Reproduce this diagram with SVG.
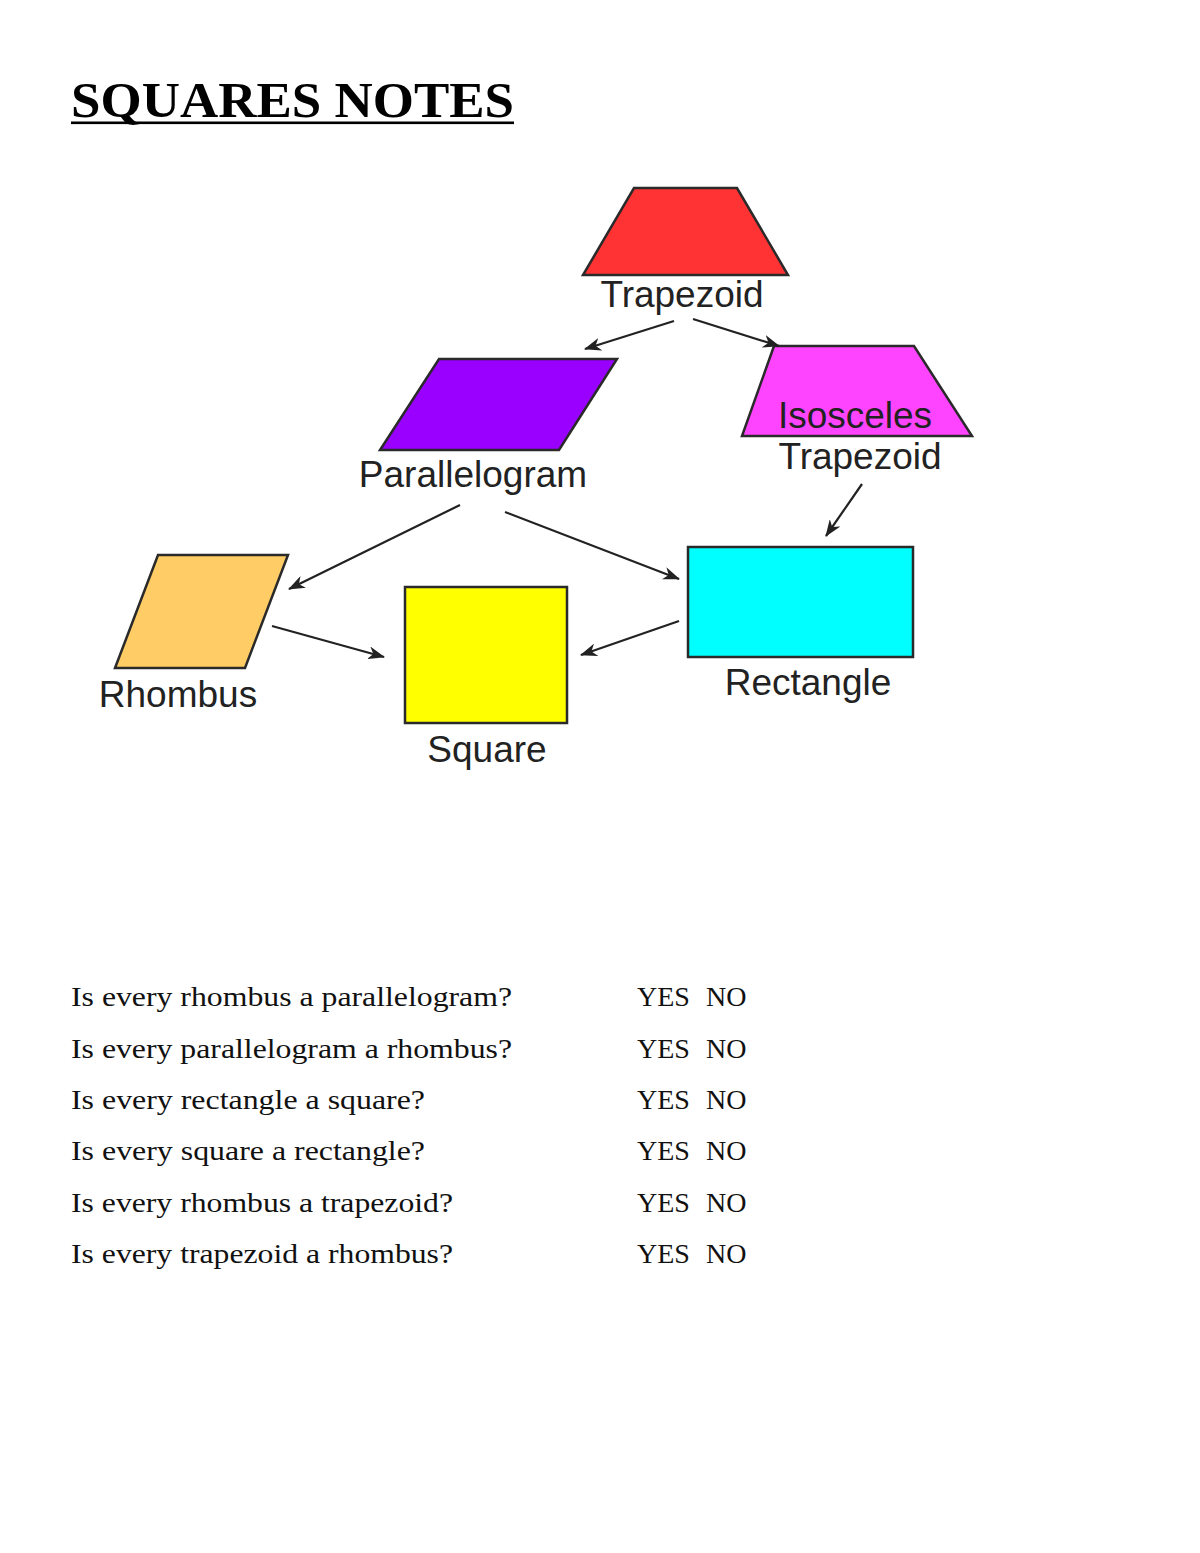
<svg xmlns="http://www.w3.org/2000/svg" width="1200" height="1553" viewBox="0 0 1200 1553">
  <style>
    .shape { stroke: #2a2a2a; stroke-width: 2.5; stroke-linejoin: miter; }
    .lbl { font-family: "Liberation Sans", Arial, sans-serif; font-size: 37px; fill: #222; }
    .conn { stroke: #222; stroke-width: 2.2; fill: none; marker-end: url(#ah); }
    .q { font-family: "Liberation Serif", "Times New Roman", serif; font-size: 28px; fill: #111; }
    .title { font-family: "Liberation Serif", "Times New Roman", serif; font-size: 51px; font-weight: bold; fill: #000; }
  </style>
  <defs>
    <marker id="ah" viewBox="0 0 17 13" refX="16" refY="6.5" markerWidth="17" markerHeight="13" markerUnits="userSpaceOnUse" orient="auto">
      <path d="M0,0 L17,6.5 L0,13 L5,6.5 z" fill="#222"/>
    </marker>
  </defs>
  <rect width="1200" height="1553" fill="#fff"/>

  <g id="title">
    <text class="title" x="71" y="117" textLength="443" lengthAdjust="spacingAndGlyphs">SQUARES NOTES</text>
    <rect x="71" y="121.5" width="443" height="2.6" fill="#000"/>
  </g>

  <g id="node-trapezoid">
    <polygon class="shape" points="634,188 737,188 788,275 583,275" fill="#ff3333"/>
    <text class="lbl" x="682" y="307" text-anchor="middle">Trapezoid</text>
  </g>

  <g id="node-parallelogram">
    <polygon class="shape" points="439,359 617,359 559,450 380,450" fill="#9900ff"/>
    <text class="lbl" x="473" y="487" text-anchor="middle">Parallelogram</text>
  </g>

  <g id="node-isosceles">
    <polygon class="shape" points="774,346 914,346 972,436 742,436" fill="#ff44ff"/>
    <text class="lbl" x="855" y="428" text-anchor="middle">Isosceles</text>
    <text class="lbl" x="860" y="469" text-anchor="middle">Trapezoid</text>
  </g>

  <g id="node-rhombus">
    <polygon class="shape" points="158,555 288,555 245,668 115,668" fill="#ffcc66"/>
    <text class="lbl" x="178" y="707" text-anchor="middle">Rhombus</text>
  </g>

  <g id="node-square">
    <rect class="shape" x="405" y="587" width="162" height="136" fill="#ffff00"/>
    <text class="lbl" x="487" y="762" text-anchor="middle">Square</text>
  </g>

  <g id="node-rectangle">
    <rect class="shape" x="688" y="547" width="225" height="110" fill="#00ffff"/>
    <text class="lbl" x="808" y="695" text-anchor="middle">Rectangle</text>
  </g>

  <g id="connectors">
    <line class="conn" x1="674" y1="321" x2="585" y2="349"/>
    <line class="conn" x1="693" y1="319" x2="779" y2="346"/>
    <line class="conn" x1="460" y1="505" x2="289" y2="589"/>
    <line class="conn" x1="505" y1="512" x2="679" y2="579"/>
    <line class="conn" x1="862" y1="484" x2="826" y2="536"/>
    <line class="conn" x1="272" y1="626" x2="384" y2="657"/>
    <line class="conn" x1="679" y1="621" x2="581" y2="655"/>
  </g>

  <g id="questions">
    <text class="q" x="71" y="1006" textLength="441" lengthAdjust="spacingAndGlyphs">Is every rhombus a parallelogram?</text>
    <text class="q" x="71" y="1058" textLength="441" lengthAdjust="spacingAndGlyphs">Is every parallelogram a rhombus?</text>
    <text class="q" x="71" y="1109" textLength="354" lengthAdjust="spacingAndGlyphs">Is every rectangle a square?</text>
    <text class="q" x="71" y="1160" textLength="354" lengthAdjust="spacingAndGlyphs">Is every square a rectangle?</text>
    <text class="q" x="71" y="1212" textLength="382" lengthAdjust="spacingAndGlyphs">Is every rhombus a trapezoid?</text>
    <text class="q" x="71" y="1263" textLength="382" lengthAdjust="spacingAndGlyphs">Is every trapezoid a rhombus?</text>
  </g>

  <g id="answers">
    <text class="q" x="637" y="1006">YES <tspan x="706">NO</tspan></text>
    <text class="q" x="637" y="1058">YES <tspan x="706">NO</tspan></text>
    <text class="q" x="637" y="1109">YES <tspan x="706">NO</tspan></text>
    <text class="q" x="637" y="1160">YES <tspan x="706">NO</tspan></text>
    <text class="q" x="637" y="1212">YES <tspan x="706">NO</tspan></text>
    <text class="q" x="637" y="1263">YES <tspan x="706">NO</tspan></text>
  </g>
</svg>
